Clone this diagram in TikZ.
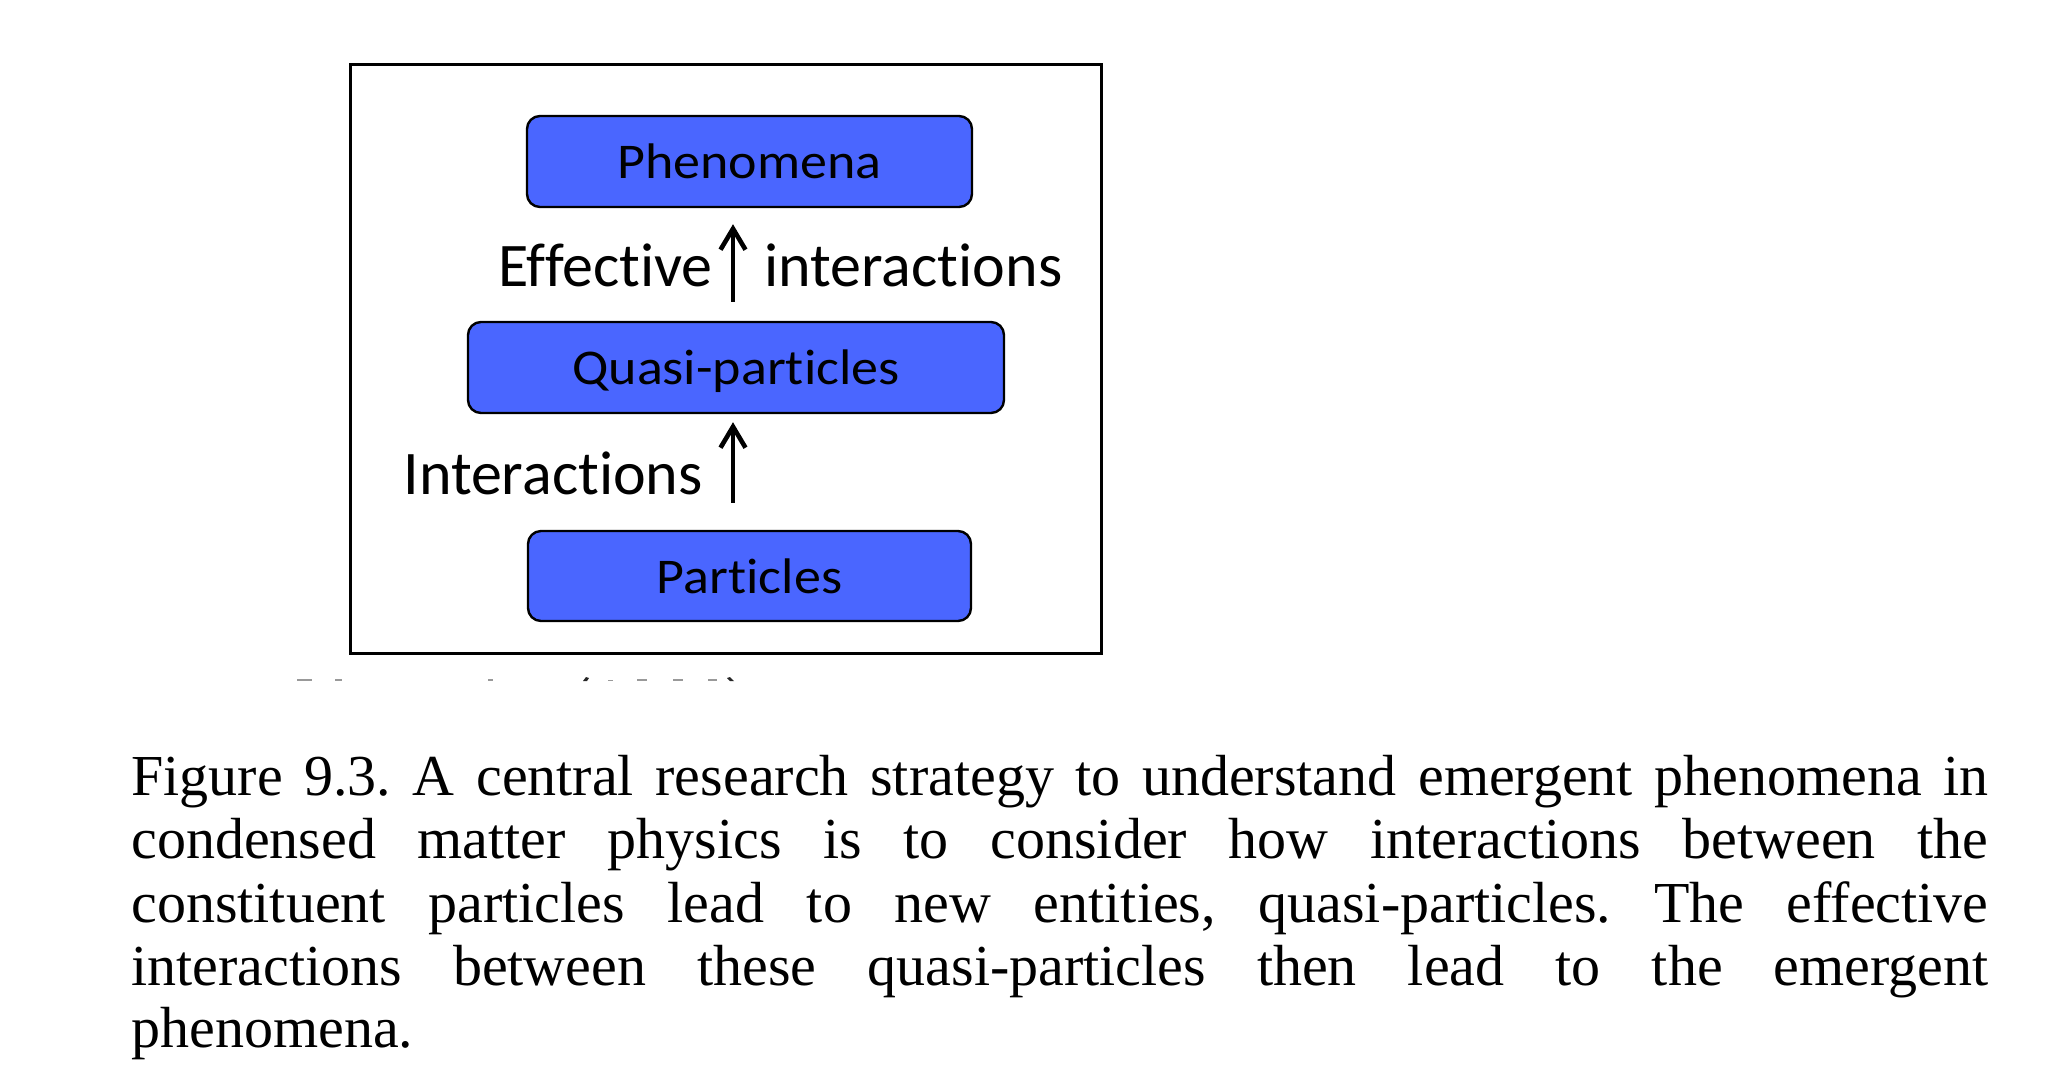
\documentclass[tikz,border=0pt]{standalone}
\usepackage{fontspec}
\usepackage{graphicx}
\setmainfont{Liberation Serif}
\newfontfamily\labelfont[Ligatures={NoCommon}]{Carlito}
\usetikzlibrary{arrows.meta}
\definecolor{boxblue}{RGB}{74,102,255}
\newcommand{\capline}[1]{\makebox[928.5pt][s]{#1}}
\frenchspacing
\begin{document}
\begin{tikzpicture}[x=0.5pt,y=-0.5pt,
  stage/.style={draw=black, line width=1.2pt, fill=boxblue, rounded corners=6.5pt,
    inner sep=0pt, text height=17pt, text depth=0pt,
    font=\labelfont\fontsize{25}{30}\selectfont},
  side/.style={anchor=base west, inner sep=0pt, font=\labelfont\fontsize{31}{37}\selectfont},
  capt/.style={anchor=base west, inner sep=0pt, font=\fontsize{29}{35}\selectfont},
  uparrow/.style={line width=2.3pt, -{Straight Barb[length=10.5pt,width=12.5pt]}},
  frag/.style={fill=black!40, draw=none},
  fragdark/.style={fill=black!85, draw=none}]
\useasboundingbox (0,0) rectangle (2048,1089);
\fill[white] (0,0) rectangle (2048,1089);

% frame
\node[draw=black, line width=1.5pt, minimum width=375.5pt, minimum height=294.5pt, inner sep=0pt] (frame) at (725.5,358.5) {};

% stages
\node[stage, minimum width=222.5pt, minimum height=45.5pt] (phen) at (749.5,161.5) {\scalebox{1.08}[1]{Phenomena}};
\node[stage, minimum width=268pt, minimum height=45.5pt] (quasi) at (736,367.5) {\scalebox{1.08}[1]{Quasi-particles}};
\node[stage, minimum width=221.5pt, minimum height=45pt] (part) at (749.5,576) {\scalebox{1.08}[1]{Particles}};

% side labels
\node[side] (eff) at (498,286) {Effective};
\node[side] (inter) at (764,286) {interactions};
\node[side] (Inter) at (403,494) {Interactions};

% arrows
\coordinate (ax) at (733,0);
\draw[uparrow, shorten <=9.5pt, shorten >=8pt] (ax |- quasi.north) -- (ax |- phen.south);
\draw[uparrow, shorten <=13.5pt, shorten >=4pt] (ax |- part.north) -- (ax |- quasi.south);

% fragments of a cut-off line of text
\fill[frag] (297,679) rectangle (312,681);
\fill[frag] (335,678.5) rectangle (342,681);
\fill[frag] (488,679) rectangle (493,681);
\fill[fragdark] (583,681) -- (586,677) -- (589,678) -- (587,681) -- cycle;
\fill[frag] (608,679.5) rectangle (613,681);
\fill[frag] (637,679) rectangle (647,681);
\fill[frag] (673,679) rectangle (683,681);
\fill[frag] (708,679) rectangle (717,681);
\fill[fragdark] (727,678) -- (730,677) -- (734,681) -- (730,681) -- cycle;

% caption
\node[capt] (c1) at (131,795) {\capline{Figure 9.3. A central research strategy to understand emergent phenomena in}};
\node[capt] (c2) at (131,858) {\capline{condensed matter physics is to consider how interactions between the}};
\node[capt] (c3) at (131,922) {\capline{constituent particles lead to new entities, quasi-particles. The effective}};
\node[capt] (c4) at (131,985) {\capline{interactions between these quasi-particles then lead to the emergent}};
\node[capt] (c5) at (131,1047) {phenomena.};
\end{tikzpicture}
\end{document}
